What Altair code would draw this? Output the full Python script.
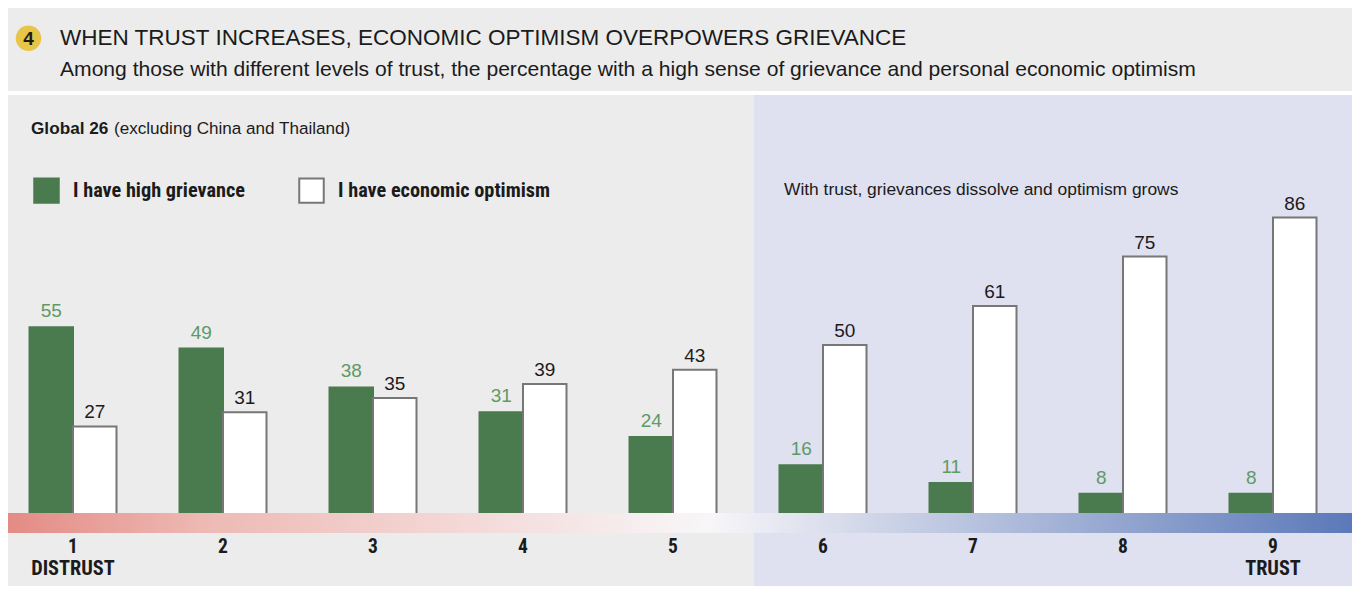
import altair as alt
import pandas as pd

# ---------------- data ----------------
levels = ["1", "2", "3", "4", "5", "6", "7", "8", "9"]
grievance = [55, 49, 38, 31, 24, 16, 11, 8, 8]
optimism = [27, 31, 35, 39, 43, 50, 61, 75, 86]
series_names = ["I have high grievance", "I have economic optimism"]
end_levels = ["1", "9"]
end_labels = ["DISTRUST", "TRUST"]

badge = "4"
title_text = "WHEN TRUST INCREASES, ECONOMIC OPTIMISM OVERPOWERS GRIEVANCE"
subtitle_text = ("Among those with different levels of trust, the percentage with a high "
                 "sense of grievance and personal economic optimism")
scope_bold = "Global 26"
scope_rest = "(excluding China and Thailand)"
note_text = "With trust, grievances dissolve and optimism grows"

rows = []
for lvl, g, o in zip(levels, grievance, optimism):
    rows.append({"level": lvl, "series": series_names[0], "value": g})
    rows.append({"level": lvl, "series": series_names[1], "value": o})
df = pd.DataFrame(rows)
ends = pd.DataFrame({"level": end_levels, "label": end_labels})
cats = pd.DataFrame({"level": levels})
one = pd.DataFrame({"k": [0]})

# ---------------- style ----------------
W, H = 1344, 578
OX, OY = 8, 8


def px(x):
    return x - OX


def py(y):
    return y - OY


GRAY_BG = "#ececec"
LAVENDER = "#dfe0f0"
GREEN = "#4a7b4f"
LABEL_GREEN = "#5e9a66"
DARK = "#1b1b1b"
REG = "Liberation Sans, Roboto, sans-serif"
NARROW = "'Liberation Sans Narrow', 'Roboto Condensed', Roboto, sans-serif"

x_scale = alt.Scale(domain=levels, range=[px(-2), px(-2) + 1350],
                    paddingInner=0.42, paddingOuter=0.21)
y_scale = alt.Scale(domain=[0, 100], range=[py(522), py(522) - 354])
xo_scale = alt.Scale(domain=series_names, paddingInner=0, paddingOuter=0)

X = alt.X("level:N", scale=x_scale, axis=None, sort=levels)
XO = alt.XOffset("series:N", scale=xo_scale, sort=series_names)
Y = alt.Y("value:Q", scale=y_scale, axis=None)

legend_cfg = alt.Legend(
    title=None, orient="none", legendX=px(33), legendY=py(177),
    direction="horizontal", symbolType="square", symbolSize=600,
    symbolStrokeWidth=2, symbolOpacity=1, labelFont=NARROW, labelFontSize=20.3,
    labelFontWeight="bold", labelColor=DARK, labelOffset=13,
    columnPadding=50, padding=0, labelLimit=400,
)


def deco_rect(x1, x2, y1, y2, fill):
    return alt.Chart(one).mark_rect(fill=fill, stroke=None).encode(
        x=alt.value(x1), x2=alt.value(x2), y=alt.value(y1), y2=alt.value(y2)
    )


def deco_text(txt, x, y, font, size, weight="normal", color=DARK, align="left",
              baseline="alphabetic"):
    return alt.Chart(one).mark_text(
        text=txt, font=font, fontSize=size, fontWeight=weight, color=color,
        align=align, baseline=baseline,
    ).encode(x=alt.value(x), y=alt.value(y))


white_band = deco_rect(0, W, py(91), py(95), "#ffffff")
lavender = deco_rect(px(754), W, py(95), H, LAVENDER)

gradient = alt.Chart(one).mark_rect(
    fill=alt.Gradient(
        gradient="linear", x1=0, x2=1, y1=0, y2=0,
        stops=[
            alt.GradientStop(offset=0.0, color="#e48b85"),
            alt.GradientStop(offset=0.15, color="#eebab5"),
            alt.GradientStop(offset=0.52, color="#f8f6f8"),
            alt.GradientStop(offset=1.0, color="#5b79b9"),
        ],
    ),
    stroke=None,
).encode(x=alt.value(0), x2=alt.value(W), y=alt.value(py(513)), y2=alt.value(py(533)))

bars = alt.Chart(df).mark_bar(strokeWidth=2, opacity=1).encode(
    x=X, xOffset=XO, y=Y,
    fill=alt.Fill("series:N", scale=alt.Scale(domain=series_names, range=[GREEN, "#ffffff"]),
                  sort=series_names, legend=legend_cfg),
    stroke=alt.Stroke("series:N", scale=alt.Scale(domain=series_names, range=[GREEN, "#777777"]),
                      sort=series_names, legend=legend_cfg),
)

val_g = alt.Chart(df).transform_filter(alt.datum.series == series_names[0]).mark_text(
    font=REG, fontSize=19, color=LABEL_GREEN, baseline="alphabetic", dy=-10
).encode(x=X, xOffset=XO, y=Y, text="value:Q")

val_o = alt.Chart(df).transform_filter(alt.datum.series == series_names[1]).mark_text(
    font=REG, fontSize=19, color=DARK, baseline="alphabetic", dy=-8
).encode(x=X, xOffset=XO, y=Y, text="value:Q")

cat_labels = alt.Chart(cats).mark_text(
    font=NARROW, fontSize=19.5, fontWeight="bold", color=DARK, baseline="alphabetic"
).encode(x=X, y=alt.value(py(553)), text="level:N")

end_text = alt.Chart(ends).mark_text(
    font=NARROW, fontSize=20.3, fontWeight="bold", color=DARK, baseline="alphabetic"
).encode(x=X, y=alt.value(py(575)), text="label:N")

badge_circle = alt.Chart(one).mark_circle(color="#e8c547", opacity=1, size=650).encode(
    x=alt.value(px(28.5)), y=alt.value(py(38.3))
)
badge_text = deco_text(badge, px(28.5), py(39), REG, 19, "bold", DARK, "center", "middle")
title = deco_text(title_text, px(60), py(45), REG, 22.5)
subtitle = deco_text(subtitle_text, px(60), py(76), REG, 21.1)
scope1 = deco_text(scope_bold, px(31), py(134), REG, 17.2, "bold")
scope2 = deco_text(scope_rest, px(114), py(134), REG, 17.1)
note = deco_text(note_text, px(784), py(195), REG, 17.4)

chart = alt.layer(
    white_band, lavender, bars, gradient, val_g, val_o, cat_labels, end_text,
    badge_circle, badge_text, title, subtitle, scope1, scope2, note,
).properties(
    width=W, height=H, background=GRAY_BG, padding=0,
    autosize=alt.AutoSizeParams(type="none"),
).configure_view(stroke=None)

chart.save("out.html", embed_options={"renderer": "svg", "actions": False})
